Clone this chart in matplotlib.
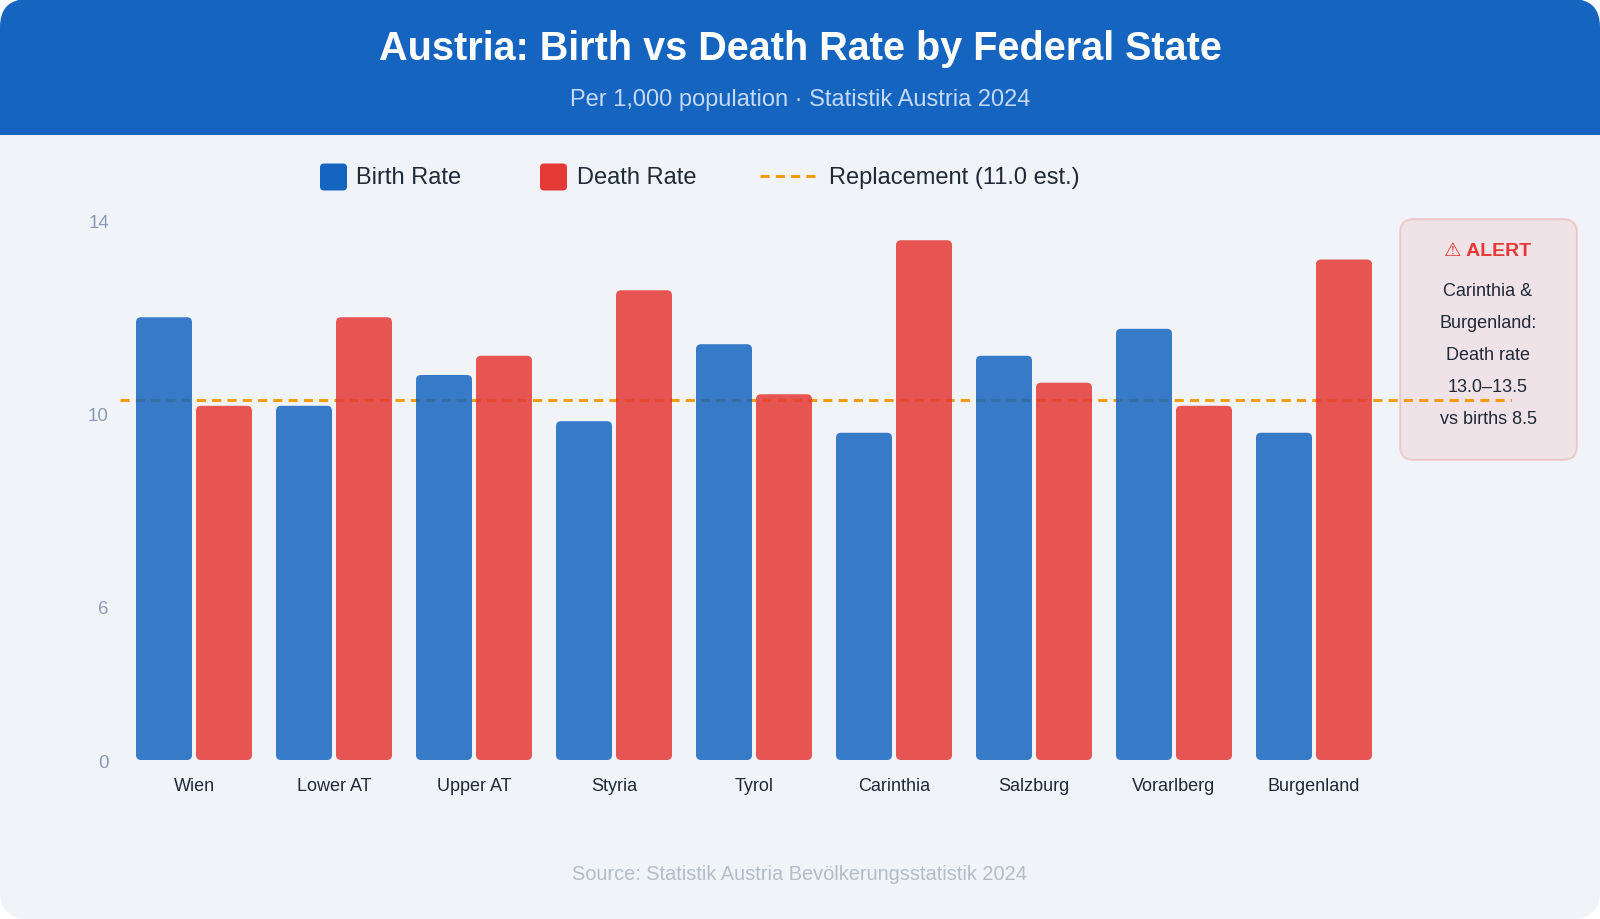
import matplotlib
matplotlib.use('Agg')
import matplotlib.pyplot as plt
from matplotlib.patches import FancyBboxPatch, Rectangle

# data (per 1,000 population)
states = ['Wien', 'Lower AT', 'Upper AT', 'Styria', 'Tyrol',
          'Carinthia', 'Salzburg', 'Vorarlberg', 'Burgenland']
birth_rate = [11.5, 9.2, 10.0, 8.8, 10.8, 8.5, 10.5, 11.2, 8.5]
death_rate = [9.2, 11.5, 10.5, 12.2, 9.5, 13.5, 9.8, 9.2, 13.0]
replacement_level = 9.35   # where the "11.0 est." line is drawn in the picture
ytick_pos = [0, 4, 9, 14]
ytick_text = ['0', '6', '10', '14']
alert_lines = ['Carinthia &', 'Burgenland:', 'Death rate', '13.0–13.5', 'vs births 8.5']

BLUE = '#1565C0'
RED = '#E53935'
ORANGE = '#F39C12'
CARD = '#F0F4F9'
DARK = '#1F2937'

plt.rcParams['font.family'] = ['Liberation Sans', 'DejaVu Sans']

W, H = 1600, 920
fig = plt.figure(figsize=(W / 100, H / 100), dpi=100)
fig.patch.set_facecolor('white')

# background axes in pixel units (y down) for card, header, legend, alert box
bg = fig.add_axes([0, 0, 1, 1], zorder=-1)
bg.set_xlim(0, W)
bg.set_ylim(H, 0)
bg.axis('off')

bg.add_patch(FancyBboxPatch((0, 0), W, H, boxstyle='round,pad=0,rounding_size=28',
                            fc=CARD, ec='none'))
bg.add_patch(FancyBboxPatch((0, 0), W, 170, boxstyle='round,pad=0,rounding_size=28',
                            fc=BLUE, ec='none'))
bg.add_patch(Rectangle((0, 136), W, 60, fc=CARD, ec='none'))

bg.text(800, 49, 'Austria: Birth vs Death Rate by Federal State', color='white',
        fontsize=28.5, fontweight='bold', ha='center', va='center')
bg.text(800, 100, 'Per 1,000 population · Statistik Austria 2024', color='#C5D8F5',
        fontsize=17, ha='center', va='center')

# legend
ly = 178
bg.add_patch(FancyBboxPatch((320, ly - 13.5), 27, 27, boxstyle='round,pad=0,rounding_size=4',
                            fc=BLUE, ec='none'))
bg.text(356, ly, 'Birth Rate', color=DARK, fontsize=17, va='center')
bg.add_patch(FancyBboxPatch((540, ly - 13.5), 27, 27, boxstyle='round,pad=0,rounding_size=4',
                            fc=RED, ec='none'))
bg.text(577, ly, 'Death Rate', color=DARK, fontsize=17, va='center')
bg.plot([760, 818], [ly - 1, ly - 1], color=ORANGE, lw=2.2, dashes=(3, 2))
bg.text(829, ly, 'Replacement (11.0 est.)', color=DARK, fontsize=17, va='center')

# alert box
bg.add_patch(FancyBboxPatch((1400, 220), 177, 241, boxstyle='round,pad=0,rounding_size=14',
                            fc=(229/255, 57/255, 53/255, 0.09), ec=(229/255, 57/255, 53/255, 0.18), lw=1.5))
bg.text(1488, 251, '⚠ ALERT', color=RED, fontsize=14, fontweight='bold', ha='center', va='center')
for i, line in enumerate(alert_lines):
    bg.text(1488, 292 + i * 32, line, color=DARK, fontsize=13, ha='center', va='center')

bg.text(800, 875, 'Source: Statistik Austria Bevölkerungsstatistik 2024', color='#B4BCC8',
        fontsize=14.4, ha='center', va='center')

# main plot
left, right, bottom, top = 120, 1512, 761, 222
ax = fig.add_axes([left / W, 1 - bottom / H, (right - left) / W, (bottom - top) / H])
ax.patch.set_alpha(0)
slot = 140.0
first_center = 194
ax.set_xlim((left - first_center) / slot, (right - first_center) / slot)
ax.set_ylim(0, 14)

x = list(range(len(states)))
bw = 56 / slot
off = 30 / slot
b1 = ax.bar([i - off for i in x], birth_rate, width=bw, color=BLUE, alpha=0.85, zorder=2)
b2 = ax.bar([i + off for i in x], death_rate, width=bw, color=RED, alpha=0.85, zorder=2)

# swap plain rectangles for rounded ones
px_per_y = (bottom - top) / 14
aspect = slot / px_per_y
for cont, col in ((b1, BLUE), (b2, RED)):
    for r in cont.patches:
        r.set_visible(False)
        ax.add_patch(FancyBboxPatch((r.get_x(), r.get_y()), r.get_width(), r.get_height(),
                                    boxstyle=f'round,pad=0,rounding_size={5 / slot}',
                                    mutation_aspect=aspect, fc=col, ec='none',
                                    alpha=0.85, zorder=2))

ax.axhline(replacement_level, color=ORANGE, lw=2.2, dashes=(3, 2), zorder=1)

ax.set_yticks(ytick_pos, ytick_text)
ax.set_xticks(x, states)
ax.tick_params(axis='y', length=0, pad=8, labelsize=13.5, labelcolor='#8C9BB4')
ax.tick_params(axis='x', length=0, pad=12.5, labelsize=13, labelcolor=DARK)
for s in ax.spines.values():
    s.set_visible(False)

fig.savefig('out.png', dpi=100, facecolor='white')
